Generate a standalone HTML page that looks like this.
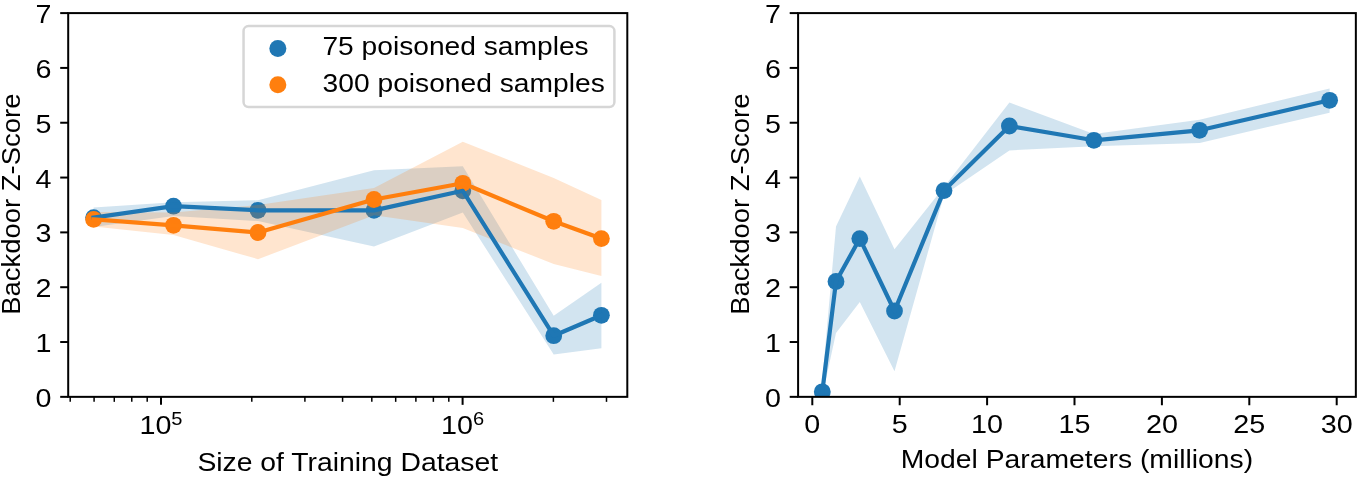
<!DOCTYPE html><html><head><meta charset="utf-8"><style>html,body{margin:0;padding:0;background:#fff;width:1359px;height:477px;overflow:hidden;position:relative}</style></head><body>
<svg width="1359" height="477" viewBox="0 0 1359 477" style="position:absolute;left:0;top:0;will-change:transform;font-family:'Liberation Sans',sans-serif">
<rect width="1359" height="477" fill="#fff"/>
<defs><clipPath id="c1"><rect x="68.2" y="13.1" width="559.0999999999999" height="383.75"/></clipPath><clipPath id="c2"><rect x="798.1" y="13.1" width="557.7499999999999" height="383.75"/></clipPath></defs>
<circle cx="93.60" cy="217.60" r="8.4" fill="#1f77b4" clip-path="url(#c1)"/><circle cx="173.50" cy="206.20" r="8.4" fill="#1f77b4" clip-path="url(#c1)"/><circle cx="258.00" cy="210.30" r="8.4" fill="#1f77b4" clip-path="url(#c1)"/><circle cx="374.00" cy="210.40" r="8.4" fill="#1f77b4" clip-path="url(#c1)"/><circle cx="462.80" cy="190.80" r="8.4" fill="#1f77b4" clip-path="url(#c1)"/><circle cx="553.70" cy="335.70" r="8.4" fill="#1f77b4" clip-path="url(#c1)"/><circle cx="601.40" cy="315.30" r="8.4" fill="#1f77b4" clip-path="url(#c1)"/>
<polygon points="93.60,207.50 173.50,202.30 258.00,200.30 374.00,170.30 462.80,166.20 553.70,315.80 601.40,282.80 601.40,348.30 553.70,354.50 462.80,212.50 374.00,246.60 258.00,221.00 173.50,216.00 93.60,227.00" fill="#1f77b4" fill-opacity="0.2" clip-path="url(#c1)"/>
<circle cx="93.60" cy="219.40" r="8.4" fill="#ff7f0e" clip-path="url(#c1)"/><circle cx="173.50" cy="225.30" r="8.4" fill="#ff7f0e" clip-path="url(#c1)"/><circle cx="258.00" cy="232.50" r="8.4" fill="#ff7f0e" clip-path="url(#c1)"/><circle cx="374.00" cy="199.50" r="8.4" fill="#ff7f0e" clip-path="url(#c1)"/><circle cx="462.80" cy="183.30" r="8.4" fill="#ff7f0e" clip-path="url(#c1)"/><circle cx="553.70" cy="221.30" r="8.4" fill="#ff7f0e" clip-path="url(#c1)"/><circle cx="601.40" cy="238.60" r="8.4" fill="#ff7f0e" clip-path="url(#c1)"/>
<polygon points="93.60,212.00 173.50,212.50 258.00,205.00 374.00,188.00 462.80,141.80 553.70,178.00 601.40,200.00 601.40,276.00 553.70,264.00 462.80,228.00 374.00,215.30 258.00,259.20 173.50,234.90 93.60,226.50" fill="#ff7f0e" fill-opacity="0.2" clip-path="url(#c1)"/>
<polyline points="93.60,217.60 173.50,206.20 258.00,210.30 374.00,210.40 462.80,190.80 553.70,335.70 601.40,315.30" fill="none" stroke="#1f77b4" stroke-width="4.2" stroke-linejoin="round" stroke-linecap="square" clip-path="url(#c1)"/>
<polyline points="93.60,219.40 173.50,225.30 258.00,232.50 374.00,199.50 462.80,183.30 553.70,221.30 601.40,238.60" fill="none" stroke="#ff7f0e" stroke-width="4.2" stroke-linejoin="round" stroke-linecap="square" clip-path="url(#c1)"/>
<rect x="68.2" y="13.1" width="559.0999999999999" height="383.75" fill="none" stroke="#000" stroke-width="2.0"/>
<line x1="60.2" y1="396.85" x2="68.2" y2="396.85" stroke="#000" stroke-width="2"/>
<text x="51.40" y="406.80" text-anchor="end" font-size="26.40" textLength="15.97" lengthAdjust="spacingAndGlyphs">0</text>
<line x1="60.2" y1="342.03" x2="68.2" y2="342.03" stroke="#000" stroke-width="2"/>
<text x="51.40" y="351.98" text-anchor="end" font-size="26.40" textLength="15.97" lengthAdjust="spacingAndGlyphs">1</text>
<line x1="60.2" y1="287.21" x2="68.2" y2="287.21" stroke="#000" stroke-width="2"/>
<text x="51.40" y="297.16" text-anchor="end" font-size="26.40" textLength="15.97" lengthAdjust="spacingAndGlyphs">2</text>
<line x1="60.2" y1="232.39" x2="68.2" y2="232.39" stroke="#000" stroke-width="2"/>
<text x="51.40" y="242.33" text-anchor="end" font-size="26.40" textLength="15.97" lengthAdjust="spacingAndGlyphs">3</text>
<line x1="60.2" y1="177.56" x2="68.2" y2="177.56" stroke="#000" stroke-width="2"/>
<text x="51.40" y="187.51" text-anchor="end" font-size="26.40" textLength="15.97" lengthAdjust="spacingAndGlyphs">4</text>
<line x1="60.2" y1="122.74" x2="68.2" y2="122.74" stroke="#000" stroke-width="2"/>
<text x="51.40" y="132.69" text-anchor="end" font-size="26.40" textLength="15.97" lengthAdjust="spacingAndGlyphs">5</text>
<line x1="60.2" y1="67.92" x2="68.2" y2="67.92" stroke="#000" stroke-width="2"/>
<text x="51.40" y="77.87" text-anchor="end" font-size="26.40" textLength="15.97" lengthAdjust="spacingAndGlyphs">6</text>
<line x1="60.2" y1="13.10" x2="68.2" y2="13.10" stroke="#000" stroke-width="2"/>
<text x="51.40" y="23.05" text-anchor="end" font-size="26.40" textLength="15.97" lengthAdjust="spacingAndGlyphs">7</text>
<line x1="161.00" y1="396.85" x2="161.00" y2="404.85" stroke="#000" stroke-width="2"/>
<line x1="462.60" y1="396.85" x2="462.60" y2="404.85" stroke="#000" stroke-width="2"/>
<line x1="70.21" y1="396.85" x2="70.21" y2="401.85" stroke="#000" stroke-width="1.5"/>
<line x1="94.09" y1="396.85" x2="94.09" y2="401.85" stroke="#000" stroke-width="1.5"/>
<line x1="114.28" y1="396.85" x2="114.28" y2="401.85" stroke="#000" stroke-width="1.5"/>
<line x1="131.77" y1="396.85" x2="131.77" y2="401.85" stroke="#000" stroke-width="1.5"/>
<line x1="147.20" y1="396.85" x2="147.20" y2="401.85" stroke="#000" stroke-width="1.5"/>
<line x1="251.79" y1="396.85" x2="251.79" y2="401.85" stroke="#000" stroke-width="1.5"/>
<line x1="304.90" y1="396.85" x2="304.90" y2="401.85" stroke="#000" stroke-width="1.5"/>
<line x1="342.58" y1="396.85" x2="342.58" y2="401.85" stroke="#000" stroke-width="1.5"/>
<line x1="371.81" y1="396.85" x2="371.81" y2="401.85" stroke="#000" stroke-width="1.5"/>
<line x1="395.69" y1="396.85" x2="395.69" y2="401.85" stroke="#000" stroke-width="1.5"/>
<line x1="415.88" y1="396.85" x2="415.88" y2="401.85" stroke="#000" stroke-width="1.5"/>
<line x1="433.37" y1="396.85" x2="433.37" y2="401.85" stroke="#000" stroke-width="1.5"/>
<line x1="448.80" y1="396.85" x2="448.80" y2="401.85" stroke="#000" stroke-width="1.5"/>
<line x1="553.39" y1="396.85" x2="553.39" y2="401.85" stroke="#000" stroke-width="1.5"/>
<line x1="606.50" y1="396.85" x2="606.50" y2="401.85" stroke="#000" stroke-width="1.5"/>
<text x="139.44" y="433.60" text-anchor="start" font-size="26.40" textLength="31.94" lengthAdjust="spacingAndGlyphs">10</text>
<text x="171.38" y="424.60" text-anchor="start" font-size="18.48" textLength="11.18" lengthAdjust="spacingAndGlyphs">5</text>
<text x="441.04" y="433.60" text-anchor="start" font-size="26.40" textLength="31.94" lengthAdjust="spacingAndGlyphs">10</text>
<text x="472.98" y="424.60" text-anchor="start" font-size="18.48" textLength="11.18" lengthAdjust="spacingAndGlyphs">6</text>
<text x="347.75" y="471.00" text-anchor="middle" font-size="26.40" textLength="300.67" lengthAdjust="spacingAndGlyphs">Size of Training Dataset</text>
<g transform="translate(19.8,204.20) rotate(-90)"><text x="0.00" y="0.00" text-anchor="middle" font-size="26.40" textLength="221.20" lengthAdjust="spacingAndGlyphs">Backdoor Z-Score</text></g>
<rect x="243.55" y="26.05" width="370.85" height="80.95" rx="5" ry="5" fill="#fff" fill-opacity="0.8" stroke="#d6d6d6" stroke-width="2.5"/>
<circle cx="277.85" cy="48.5" r="8.5" fill="#1f77b4"/>
<circle cx="277.85" cy="84.7" r="8.5" fill="#ff7f0e"/>
<text x="322.44" y="55.10" text-anchor="start" font-size="26.40" textLength="266.21" lengthAdjust="spacingAndGlyphs">75 poisoned samples</text>
<text x="322.59" y="91.70" text-anchor="start" font-size="26.40" textLength="282.18" lengthAdjust="spacingAndGlyphs">300 poisoned samples</text>
<circle cx="822.30" cy="391.80" r="8.4" fill="#1f77b4" clip-path="url(#c2)"/><circle cx="836.00" cy="281.50" r="8.4" fill="#1f77b4" clip-path="url(#c2)"/><circle cx="859.80" cy="238.60" r="8.4" fill="#1f77b4" clip-path="url(#c2)"/><circle cx="894.50" cy="311.00" r="8.4" fill="#1f77b4" clip-path="url(#c2)"/><circle cx="944.00" cy="190.60" r="8.4" fill="#1f77b4" clip-path="url(#c2)"/><circle cx="1009.40" cy="126.00" r="8.4" fill="#1f77b4" clip-path="url(#c2)"/><circle cx="1093.90" cy="140.30" r="8.4" fill="#1f77b4" clip-path="url(#c2)"/><circle cx="1199.60" cy="130.30" r="8.4" fill="#1f77b4" clip-path="url(#c2)"/><circle cx="1329.60" cy="100.30" r="8.4" fill="#1f77b4" clip-path="url(#c2)"/>
<polygon points="822.30,380.00 836.00,226.60 859.80,176.60 894.50,249.20 944.00,187.00 1009.40,102.60 1093.90,134.10 1199.60,119.70 1329.60,88.40 1329.60,112.70 1199.60,142.90 1093.90,146.20 1009.40,150.40 944.00,195.00 894.50,371.30 859.80,301.90 836.00,333.00 822.30,396.00" fill="#1f77b4" fill-opacity="0.2" clip-path="url(#c2)"/>
<polyline points="822.30,391.80 836.00,281.50 859.80,238.60 894.50,311.00 944.00,190.60 1009.40,126.00 1093.90,140.30 1199.60,130.30 1329.60,100.30" fill="none" stroke="#1f77b4" stroke-width="4.2" stroke-linejoin="round" stroke-linecap="square" clip-path="url(#c2)"/>
<rect x="798.1" y="13.1" width="557.7499999999999" height="383.75" fill="none" stroke="#000" stroke-width="2.0"/>
<line x1="789.7" y1="396.85" x2="798.1" y2="396.85" stroke="#000" stroke-width="2"/>
<text x="780.90" y="406.80" text-anchor="end" font-size="26.40" textLength="15.97" lengthAdjust="spacingAndGlyphs">0</text>
<line x1="789.7" y1="342.03" x2="798.1" y2="342.03" stroke="#000" stroke-width="2"/>
<text x="780.90" y="351.98" text-anchor="end" font-size="26.40" textLength="15.97" lengthAdjust="spacingAndGlyphs">1</text>
<line x1="789.7" y1="287.21" x2="798.1" y2="287.21" stroke="#000" stroke-width="2"/>
<text x="780.90" y="297.16" text-anchor="end" font-size="26.40" textLength="15.97" lengthAdjust="spacingAndGlyphs">2</text>
<line x1="789.7" y1="232.39" x2="798.1" y2="232.39" stroke="#000" stroke-width="2"/>
<text x="780.90" y="242.33" text-anchor="end" font-size="26.40" textLength="15.97" lengthAdjust="spacingAndGlyphs">3</text>
<line x1="789.7" y1="177.56" x2="798.1" y2="177.56" stroke="#000" stroke-width="2"/>
<text x="780.90" y="187.51" text-anchor="end" font-size="26.40" textLength="15.97" lengthAdjust="spacingAndGlyphs">4</text>
<line x1="789.7" y1="122.74" x2="798.1" y2="122.74" stroke="#000" stroke-width="2"/>
<text x="780.90" y="132.69" text-anchor="end" font-size="26.40" textLength="15.97" lengthAdjust="spacingAndGlyphs">5</text>
<line x1="789.7" y1="67.92" x2="798.1" y2="67.92" stroke="#000" stroke-width="2"/>
<text x="780.90" y="77.87" text-anchor="end" font-size="26.40" textLength="15.97" lengthAdjust="spacingAndGlyphs">6</text>
<line x1="789.7" y1="13.10" x2="798.1" y2="13.10" stroke="#000" stroke-width="2"/>
<text x="780.90" y="23.05" text-anchor="end" font-size="26.40" textLength="15.97" lengthAdjust="spacingAndGlyphs">7</text>
<line x1="812.30" y1="396.85" x2="812.30" y2="405.25" stroke="#000" stroke-width="2"/>
<text x="812.30" y="433.00" text-anchor="middle" font-size="26.40" textLength="15.97" lengthAdjust="spacingAndGlyphs">0</text>
<line x1="899.70" y1="396.85" x2="899.70" y2="405.25" stroke="#000" stroke-width="2"/>
<text x="899.70" y="433.00" text-anchor="middle" font-size="26.40" textLength="15.97" lengthAdjust="spacingAndGlyphs">5</text>
<line x1="987.10" y1="396.85" x2="987.10" y2="405.25" stroke="#000" stroke-width="2"/>
<text x="987.10" y="433.00" text-anchor="middle" font-size="26.40" textLength="31.94" lengthAdjust="spacingAndGlyphs">10</text>
<line x1="1074.50" y1="396.85" x2="1074.50" y2="405.25" stroke="#000" stroke-width="2"/>
<text x="1074.50" y="433.00" text-anchor="middle" font-size="26.40" textLength="31.94" lengthAdjust="spacingAndGlyphs">15</text>
<line x1="1161.90" y1="396.85" x2="1161.90" y2="405.25" stroke="#000" stroke-width="2"/>
<text x="1161.90" y="433.00" text-anchor="middle" font-size="26.40" textLength="31.94" lengthAdjust="spacingAndGlyphs">20</text>
<line x1="1249.30" y1="396.85" x2="1249.30" y2="405.25" stroke="#000" stroke-width="2"/>
<text x="1249.30" y="433.00" text-anchor="middle" font-size="26.40" textLength="31.94" lengthAdjust="spacingAndGlyphs">25</text>
<line x1="1336.70" y1="396.85" x2="1336.70" y2="405.25" stroke="#000" stroke-width="2"/>
<text x="1336.70" y="433.00" text-anchor="middle" font-size="26.40" textLength="31.94" lengthAdjust="spacingAndGlyphs">30</text>
<text x="1076.97" y="467.60" text-anchor="middle" font-size="26.40" textLength="352.38" lengthAdjust="spacingAndGlyphs">Model Parameters (millions)</text>
<g transform="translate(749.4,204.20) rotate(-90)"><text x="0.00" y="0.00" text-anchor="middle" font-size="26.40" textLength="221.20" lengthAdjust="spacingAndGlyphs">Backdoor Z-Score</text></g>
</svg>
</body></html>
